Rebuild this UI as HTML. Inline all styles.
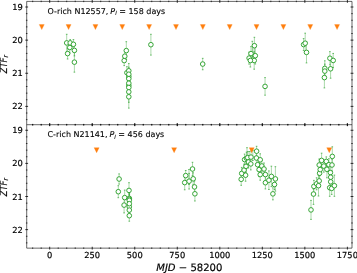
<!DOCTYPE html>
<html><head><meta charset="utf-8"><title>ZTF light curves</title>
<style>html,body{margin:0;padding:0;background:#fff}body{width:357px;height:273px;overflow:hidden}</style>
</head><body>
<svg width="357" height="273" viewBox="0 0 357 273" style="display:block">
<rect width="357" height="273" fill="#fff"/>
<g>
<path d="M66.70 34.30V51.50" stroke="#2ca02c" stroke-width="0.4" fill="none"/><path d="M65.90 34.30h1.6M65.90 51.50h1.6" stroke="#2ca02c" stroke-width="0.7" fill="none"/>
<path d="M67.60 48.20V59.00" stroke="#2ca02c" stroke-width="0.4" fill="none"/><path d="M66.80 48.20h1.6M66.80 59.00h1.6" stroke="#2ca02c" stroke-width="0.7" fill="none"/>
<path d="M69.80 42.00V53.00" stroke="#2ca02c" stroke-width="0.4" fill="none"/><path d="M69.00 42.00h1.6M69.00 53.00h1.6" stroke="#2ca02c" stroke-width="0.7" fill="none"/>
<path d="M70.20 39.60V47.90" stroke="#2ca02c" stroke-width="0.4" fill="none"/><path d="M69.40 39.60h1.6M69.40 47.90h1.6" stroke="#2ca02c" stroke-width="0.7" fill="none"/>
<path d="M73.45 39.60V49.80" stroke="#2ca02c" stroke-width="0.4" fill="none"/><path d="M72.65 39.60h1.6M72.65 49.80h1.6" stroke="#2ca02c" stroke-width="0.7" fill="none"/>
<path d="M74.40 44.90V55.90" stroke="#2ca02c" stroke-width="0.4" fill="none"/><path d="M73.60 44.90h1.6M73.60 55.90h1.6" stroke="#2ca02c" stroke-width="0.7" fill="none"/>
<path d="M74.40 52.15V72.15" stroke="#2ca02c" stroke-width="0.4" fill="none"/><path d="M73.60 52.15h1.6M73.60 72.15h1.6" stroke="#2ca02c" stroke-width="0.7" fill="none"/>
<path d="M124.20 55.60V65.60" stroke="#2ca02c" stroke-width="0.4" fill="none"/><path d="M123.40 55.60h1.6M123.40 65.60h1.6" stroke="#2ca02c" stroke-width="0.7" fill="none"/>
<path d="M124.80 50.20V62.20" stroke="#2ca02c" stroke-width="0.4" fill="none"/><path d="M124.00 50.20h1.6M124.00 62.20h1.6" stroke="#2ca02c" stroke-width="0.7" fill="none"/>
<path d="M126.30 41.70V59.50" stroke="#2ca02c" stroke-width="0.4" fill="none"/><path d="M125.50 41.70h1.6M125.50 59.50h1.6" stroke="#2ca02c" stroke-width="0.7" fill="none"/>
<path d="M126.90 66.70V78.70" stroke="#2ca02c" stroke-width="0.4" fill="none"/><path d="M126.10 66.70h1.6M126.10 78.70h1.6" stroke="#2ca02c" stroke-width="0.7" fill="none"/>
<path d="M128.80 69.50V83.50" stroke="#2ca02c" stroke-width="0.4" fill="none"/><path d="M128.00 69.50h1.6M128.00 83.50h1.6" stroke="#2ca02c" stroke-width="0.7" fill="none"/>
<path d="M128.80 78.50V92.50" stroke="#2ca02c" stroke-width="0.4" fill="none"/><path d="M128.00 78.50h1.6M128.00 92.50h1.6" stroke="#2ca02c" stroke-width="0.7" fill="none"/>
<path d="M128.80 63.60V78.00" stroke="#2ca02c" stroke-width="0.4" fill="none"/><path d="M128.00 63.60h1.6M128.00 78.00h1.6" stroke="#2ca02c" stroke-width="0.7" fill="none"/>
<path d="M128.80 67.20V81.20" stroke="#2ca02c" stroke-width="0.4" fill="none"/><path d="M128.00 67.20h1.6M128.00 81.20h1.6" stroke="#2ca02c" stroke-width="0.7" fill="none"/>
<path d="M128.80 71.70V85.70" stroke="#2ca02c" stroke-width="0.4" fill="none"/><path d="M128.00 71.70h1.6M128.00 85.70h1.6" stroke="#2ca02c" stroke-width="0.7" fill="none"/>
<path d="M128.80 76.20V90.20" stroke="#2ca02c" stroke-width="0.4" fill="none"/><path d="M128.00 76.20h1.6M128.00 90.20h1.6" stroke="#2ca02c" stroke-width="0.7" fill="none"/>
<path d="M128.80 80.50V94.50" stroke="#2ca02c" stroke-width="0.4" fill="none"/><path d="M128.00 80.50h1.6M128.00 94.50h1.6" stroke="#2ca02c" stroke-width="0.7" fill="none"/>
<path d="M128.80 81.50V102.30" stroke="#2ca02c" stroke-width="0.4" fill="none"/><path d="M128.00 81.50h1.6M128.00 102.30h1.6" stroke="#2ca02c" stroke-width="0.7" fill="none"/>
<path d="M128.80 91.30V108.10" stroke="#2ca02c" stroke-width="0.4" fill="none"/><path d="M128.00 91.30h1.6M128.00 108.10h1.6" stroke="#2ca02c" stroke-width="0.7" fill="none"/>
<path d="M150.90 34.30V55.10" stroke="#2ca02c" stroke-width="0.4" fill="none"/><path d="M150.10 34.30h1.6M150.10 55.10h1.6" stroke="#2ca02c" stroke-width="0.7" fill="none"/>
<path d="M202.70 58.35V69.75" stroke="#2ca02c" stroke-width="0.4" fill="none"/><path d="M201.90 58.35h1.6M201.90 69.75h1.6" stroke="#2ca02c" stroke-width="0.7" fill="none"/>
<path d="M249.10 52.10V64.10" stroke="#2ca02c" stroke-width="0.4" fill="none"/><path d="M248.30 52.10h1.6M248.30 64.10h1.6" stroke="#2ca02c" stroke-width="0.7" fill="none"/>
<path d="M251.00 46.60V60.60" stroke="#2ca02c" stroke-width="0.4" fill="none"/><path d="M250.20 46.60h1.6M250.20 60.60h1.6" stroke="#2ca02c" stroke-width="0.7" fill="none"/>
<path d="M252.30 41.30V57.70" stroke="#2ca02c" stroke-width="0.4" fill="none"/><path d="M251.50 41.30h1.6M251.50 57.70h1.6" stroke="#2ca02c" stroke-width="0.7" fill="none"/>
<path d="M252.90 44.50V56.50" stroke="#2ca02c" stroke-width="0.4" fill="none"/><path d="M252.10 44.50h1.6M252.10 56.50h1.6" stroke="#2ca02c" stroke-width="0.7" fill="none"/>
<path d="M254.20 51.80V69.20" stroke="#2ca02c" stroke-width="0.4" fill="none"/><path d="M253.40 51.80h1.6M253.40 69.20h1.6" stroke="#2ca02c" stroke-width="0.7" fill="none"/>
<path d="M254.40 37.30V54.10" stroke="#2ca02c" stroke-width="0.4" fill="none"/><path d="M253.60 37.30h1.6M253.60 54.10h1.6" stroke="#2ca02c" stroke-width="0.7" fill="none"/>
<path d="M255.30 47.40V64.00" stroke="#2ca02c" stroke-width="0.4" fill="none"/><path d="M254.50 47.40h1.6M254.50 64.00h1.6" stroke="#2ca02c" stroke-width="0.7" fill="none"/>
<path d="M250.40 54.00V67.00" stroke="#2ca02c" stroke-width="0.4" fill="none"/><path d="M249.60 54.00h1.6M249.60 67.00h1.6" stroke="#2ca02c" stroke-width="0.7" fill="none"/>
<path d="M265.05 77.60V95.20" stroke="#2ca02c" stroke-width="0.4" fill="none"/><path d="M264.25 77.60h1.6M264.25 95.20h1.6" stroke="#2ca02c" stroke-width="0.7" fill="none"/>
<path d="M303.60 38.60V50.60" stroke="#2ca02c" stroke-width="0.4" fill="none"/><path d="M302.80 38.60h1.6M302.80 50.60h1.6" stroke="#2ca02c" stroke-width="0.7" fill="none"/>
<path d="M305.20 33.20V53.20" stroke="#2ca02c" stroke-width="0.4" fill="none"/><path d="M304.40 33.20h1.6M304.40 53.20h1.6" stroke="#2ca02c" stroke-width="0.7" fill="none"/>
<path d="M306.50 41.90V62.90" stroke="#2ca02c" stroke-width="0.4" fill="none"/><path d="M305.70 41.90h1.6M305.70 62.90h1.6" stroke="#2ca02c" stroke-width="0.7" fill="none"/>
<path d="M324.40 67.30V87.90" stroke="#2ca02c" stroke-width="0.4" fill="none"/><path d="M323.60 67.30h1.6M323.60 87.90h1.6" stroke="#2ca02c" stroke-width="0.7" fill="none"/>
<path d="M324.80 60.80V76.00" stroke="#2ca02c" stroke-width="0.4" fill="none"/><path d="M324.00 60.80h1.6M324.00 76.00h1.6" stroke="#2ca02c" stroke-width="0.7" fill="none"/>
<path d="M324.80 64.10V78.10" stroke="#2ca02c" stroke-width="0.4" fill="none"/><path d="M324.00 64.10h1.6M324.00 78.10h1.6" stroke="#2ca02c" stroke-width="0.7" fill="none"/>
<path d="M329.90 51.65V64.85" stroke="#2ca02c" stroke-width="0.4" fill="none"/><path d="M329.10 51.65h1.6M329.10 64.85h1.6" stroke="#2ca02c" stroke-width="0.7" fill="none"/>
<path d="M330.60 59.40V78.20" stroke="#2ca02c" stroke-width="0.4" fill="none"/><path d="M329.80 59.40h1.6M329.80 78.20h1.6" stroke="#2ca02c" stroke-width="0.7" fill="none"/>
<path d="M333.20 53.45V67.45" stroke="#2ca02c" stroke-width="0.4" fill="none"/><path d="M332.40 53.45h1.6M332.40 67.45h1.6" stroke="#2ca02c" stroke-width="0.7" fill="none"/>
<circle cx="66.70" cy="42.90" r="2.3" fill="#fff" stroke="#2ca02c" stroke-width="0.95"/>
<circle cx="67.60" cy="53.60" r="2.3" fill="#fff" stroke="#2ca02c" stroke-width="0.95"/>
<circle cx="69.80" cy="47.50" r="2.3" fill="#fff" stroke="#2ca02c" stroke-width="0.95"/>
<circle cx="70.20" cy="42.90" r="2.3" fill="#fff" stroke="#2ca02c" stroke-width="0.95"/>
<circle cx="73.45" cy="44.30" r="2.3" fill="#fff" stroke="#2ca02c" stroke-width="0.95"/>
<circle cx="74.40" cy="50.40" r="2.3" fill="#fff" stroke="#2ca02c" stroke-width="0.95"/>
<circle cx="74.40" cy="62.15" r="2.3" fill="#fff" stroke="#2ca02c" stroke-width="0.95"/>
<circle cx="124.20" cy="60.60" r="2.3" fill="#fff" stroke="#2ca02c" stroke-width="0.95"/>
<circle cx="124.80" cy="56.20" r="2.3" fill="#fff" stroke="#2ca02c" stroke-width="0.95"/>
<circle cx="126.30" cy="50.60" r="2.3" fill="#fff" stroke="#2ca02c" stroke-width="0.95"/>
<circle cx="126.90" cy="72.70" r="2.3" fill="#fff" stroke="#2ca02c" stroke-width="0.95"/>
<circle cx="128.80" cy="76.50" r="2.3" fill="#fff" stroke="#2ca02c" stroke-width="0.95"/>
<circle cx="128.80" cy="85.50" r="2.3" fill="#fff" stroke="#2ca02c" stroke-width="0.95"/>
<circle cx="128.80" cy="70.80" r="2.3" fill="#fff" stroke="#2ca02c" stroke-width="0.95"/>
<circle cx="128.80" cy="74.20" r="2.3" fill="#fff" stroke="#2ca02c" stroke-width="0.95"/>
<circle cx="128.80" cy="78.70" r="2.3" fill="#fff" stroke="#2ca02c" stroke-width="0.95"/>
<circle cx="128.80" cy="83.20" r="2.3" fill="#fff" stroke="#2ca02c" stroke-width="0.95"/>
<circle cx="128.80" cy="87.50" r="2.3" fill="#fff" stroke="#2ca02c" stroke-width="0.95"/>
<circle cx="128.80" cy="91.90" r="2.3" fill="#fff" stroke="#2ca02c" stroke-width="0.95"/>
<circle cx="128.80" cy="96.80" r="2.3" fill="#fff" stroke="#2ca02c" stroke-width="0.95"/>
<circle cx="150.90" cy="44.70" r="2.3" fill="#fff" stroke="#2ca02c" stroke-width="0.95"/>
<circle cx="202.70" cy="64.05" r="2.3" fill="#fff" stroke="#2ca02c" stroke-width="0.95"/>
<circle cx="249.10" cy="58.10" r="2.3" fill="#fff" stroke="#2ca02c" stroke-width="0.95"/>
<circle cx="251.00" cy="53.60" r="2.3" fill="#fff" stroke="#2ca02c" stroke-width="0.95"/>
<circle cx="254.20" cy="60.50" r="2.3" fill="#fff" stroke="#2ca02c" stroke-width="0.95"/>
<circle cx="254.40" cy="45.70" r="2.3" fill="#fff" stroke="#2ca02c" stroke-width="0.95"/>
<circle cx="255.30" cy="55.70" r="2.3" fill="#fff" stroke="#2ca02c" stroke-width="0.95"/>
<circle cx="250.40" cy="60.50" r="2.3" fill="#fff" stroke="#2ca02c" stroke-width="0.95"/>
<circle cx="265.05" cy="86.40" r="2.3" fill="#fff" stroke="#2ca02c" stroke-width="0.95"/>
<circle cx="303.60" cy="44.60" r="2.3" fill="#fff" stroke="#2ca02c" stroke-width="0.95"/>
<circle cx="305.20" cy="43.20" r="2.3" fill="#fff" stroke="#2ca02c" stroke-width="0.95"/>
<circle cx="306.50" cy="52.40" r="2.3" fill="#fff" stroke="#2ca02c" stroke-width="0.95"/>
<circle cx="324.40" cy="77.60" r="2.3" fill="#fff" stroke="#2ca02c" stroke-width="0.95"/>
<circle cx="324.80" cy="68.40" r="2.3" fill="#fff" stroke="#2ca02c" stroke-width="0.95"/>
<circle cx="324.80" cy="71.10" r="2.3" fill="#fff" stroke="#2ca02c" stroke-width="0.95"/>
<circle cx="329.90" cy="58.25" r="2.3" fill="#fff" stroke="#2ca02c" stroke-width="0.95"/>
<circle cx="330.60" cy="68.80" r="2.3" fill="#fff" stroke="#2ca02c" stroke-width="0.95"/>
<circle cx="333.20" cy="60.45" r="2.3" fill="#fff" stroke="#2ca02c" stroke-width="0.95"/>
<path d="M118.30 185.70V197.70" stroke="#2ca02c" stroke-width="0.4" fill="none"/><path d="M117.50 185.70h1.6M117.50 197.70h1.6" stroke="#2ca02c" stroke-width="0.7" fill="none"/>
<path d="M119.10 173.90V184.10" stroke="#2ca02c" stroke-width="0.4" fill="none"/><path d="M118.30 173.90h1.6M118.30 184.10h1.6" stroke="#2ca02c" stroke-width="0.7" fill="none"/>
<path d="M124.10 197.30V212.90" stroke="#2ca02c" stroke-width="0.4" fill="none"/><path d="M123.30 197.30h1.6M123.30 212.90h1.6" stroke="#2ca02c" stroke-width="0.7" fill="none"/>
<path d="M124.70 190.10V205.10" stroke="#2ca02c" stroke-width="0.4" fill="none"/><path d="M123.90 190.10h1.6M123.90 205.10h1.6" stroke="#2ca02c" stroke-width="0.7" fill="none"/>
<path d="M129.00 182.70V198.10" stroke="#2ca02c" stroke-width="0.4" fill="none"/><path d="M128.20 182.70h1.6M128.20 198.10h1.6" stroke="#2ca02c" stroke-width="0.7" fill="none"/>
<path d="M129.30 192.30V204.30" stroke="#2ca02c" stroke-width="0.4" fill="none"/><path d="M128.50 192.30h1.6M128.50 204.30h1.6" stroke="#2ca02c" stroke-width="0.7" fill="none"/>
<path d="M129.30 193.20V205.20" stroke="#2ca02c" stroke-width="0.4" fill="none"/><path d="M128.50 193.20h1.6M128.50 205.20h1.6" stroke="#2ca02c" stroke-width="0.7" fill="none"/>
<path d="M129.30 194.30V206.30" stroke="#2ca02c" stroke-width="0.4" fill="none"/><path d="M128.50 194.30h1.6M128.50 206.30h1.6" stroke="#2ca02c" stroke-width="0.7" fill="none"/>
<path d="M129.30 200.80V212.80" stroke="#2ca02c" stroke-width="0.4" fill="none"/><path d="M128.50 200.80h1.6M128.50 212.80h1.6" stroke="#2ca02c" stroke-width="0.7" fill="none"/>
<path d="M129.30 197.70V209.70" stroke="#2ca02c" stroke-width="0.4" fill="none"/><path d="M128.50 197.70h1.6M128.50 209.70h1.6" stroke="#2ca02c" stroke-width="0.7" fill="none"/>
<path d="M129.30 204.10V216.10" stroke="#2ca02c" stroke-width="0.4" fill="none"/><path d="M128.50 204.10h1.6M128.50 216.10h1.6" stroke="#2ca02c" stroke-width="0.7" fill="none"/>
<path d="M129.30 210.20V221.20" stroke="#2ca02c" stroke-width="0.4" fill="none"/><path d="M128.50 210.20h1.6M128.50 221.20h1.6" stroke="#2ca02c" stroke-width="0.7" fill="none"/>
<path d="M184.70 175.40V189.80" stroke="#2ca02c" stroke-width="0.4" fill="none"/><path d="M183.90 175.40h1.6M183.90 189.80h1.6" stroke="#2ca02c" stroke-width="0.7" fill="none"/>
<path d="M185.70 170.50V180.70" stroke="#2ca02c" stroke-width="0.4" fill="none"/><path d="M184.90 170.50h1.6M184.90 180.70h1.6" stroke="#2ca02c" stroke-width="0.7" fill="none"/>
<path d="M189.00 169.50V184.50" stroke="#2ca02c" stroke-width="0.4" fill="none"/><path d="M188.20 169.50h1.6M188.20 184.50h1.6" stroke="#2ca02c" stroke-width="0.7" fill="none"/>
<path d="M189.10 173.40V189.00" stroke="#2ca02c" stroke-width="0.4" fill="none"/><path d="M188.30 173.40h1.6M188.30 189.00h1.6" stroke="#2ca02c" stroke-width="0.7" fill="none"/>
<path d="M192.50 162.30V175.70" stroke="#2ca02c" stroke-width="0.4" fill="none"/><path d="M191.70 162.30h1.6M191.70 175.70h1.6" stroke="#2ca02c" stroke-width="0.7" fill="none"/>
<path d="M193.20 172.80V184.80" stroke="#2ca02c" stroke-width="0.4" fill="none"/><path d="M192.40 172.80h1.6M192.40 184.80h1.6" stroke="#2ca02c" stroke-width="0.7" fill="none"/>
<path d="M194.50 180.90V192.90" stroke="#2ca02c" stroke-width="0.4" fill="none"/><path d="M193.70 180.90h1.6M193.70 192.90h1.6" stroke="#2ca02c" stroke-width="0.7" fill="none"/>
<path d="M194.90 186.60V201.00" stroke="#2ca02c" stroke-width="0.4" fill="none"/><path d="M194.10 186.60h1.6M194.10 201.00h1.6" stroke="#2ca02c" stroke-width="0.7" fill="none"/>
<path d="M241.20 173.30V185.30" stroke="#2ca02c" stroke-width="0.4" fill="none"/><path d="M240.40 173.30h1.6M240.40 185.30h1.6" stroke="#2ca02c" stroke-width="0.7" fill="none"/>
<path d="M241.70 167.40V179.40" stroke="#2ca02c" stroke-width="0.4" fill="none"/><path d="M240.90 167.40h1.6M240.90 179.40h1.6" stroke="#2ca02c" stroke-width="0.7" fill="none"/>
<path d="M244.10 164.10V176.10" stroke="#2ca02c" stroke-width="0.4" fill="none"/><path d="M243.30 164.10h1.6M243.30 176.10h1.6" stroke="#2ca02c" stroke-width="0.7" fill="none"/>
<path d="M244.60 154.10V165.10" stroke="#2ca02c" stroke-width="0.4" fill="none"/><path d="M243.80 154.10h1.6M243.80 165.10h1.6" stroke="#2ca02c" stroke-width="0.7" fill="none"/>
<path d="M245.60 169.20V181.20" stroke="#2ca02c" stroke-width="0.4" fill="none"/><path d="M244.80 169.20h1.6M244.80 181.20h1.6" stroke="#2ca02c" stroke-width="0.7" fill="none"/>
<path d="M246.00 160.30V172.30" stroke="#2ca02c" stroke-width="0.4" fill="none"/><path d="M245.20 160.30h1.6M245.20 172.30h1.6" stroke="#2ca02c" stroke-width="0.7" fill="none"/>
<path d="M246.50 152.20V164.20" stroke="#2ca02c" stroke-width="0.4" fill="none"/><path d="M245.70 152.20h1.6M245.70 164.20h1.6" stroke="#2ca02c" stroke-width="0.7" fill="none"/>
<path d="M247.00 147.70V160.30" stroke="#2ca02c" stroke-width="0.4" fill="none"/><path d="M246.20 147.70h1.6M246.20 160.30h1.6" stroke="#2ca02c" stroke-width="0.7" fill="none"/>
<path d="M247.70 151.60V163.60" stroke="#2ca02c" stroke-width="0.4" fill="none"/><path d="M246.90 151.60h1.6M246.90 163.60h1.6" stroke="#2ca02c" stroke-width="0.7" fill="none"/>
<path d="M248.40 156.00V168.00" stroke="#2ca02c" stroke-width="0.4" fill="none"/><path d="M247.60 156.00h1.6M247.60 168.00h1.6" stroke="#2ca02c" stroke-width="0.7" fill="none"/>
<path d="M249.20 151.50V158.50" stroke="#2ca02c" stroke-width="0.4" fill="none"/><path d="M248.40 151.50h1.6M248.40 158.50h1.6" stroke="#2ca02c" stroke-width="0.7" fill="none"/>
<path d="M250.80 157.90V169.90" stroke="#2ca02c" stroke-width="0.4" fill="none"/><path d="M250.00 157.90h1.6M250.00 169.90h1.6" stroke="#2ca02c" stroke-width="0.7" fill="none"/>
<path d="M251.00 151.10V163.10" stroke="#2ca02c" stroke-width="0.4" fill="none"/><path d="M250.20 151.10h1.6M250.20 163.10h1.6" stroke="#2ca02c" stroke-width="0.7" fill="none"/>
<path d="M252.80 150.50V160.50" stroke="#2ca02c" stroke-width="0.4" fill="none"/><path d="M252.00 150.50h1.6M252.00 160.50h1.6" stroke="#2ca02c" stroke-width="0.7" fill="none"/>
<path d="M256.40 152.00V164.00" stroke="#2ca02c" stroke-width="0.4" fill="none"/><path d="M255.60 152.00h1.6M255.60 164.00h1.6" stroke="#2ca02c" stroke-width="0.7" fill="none"/>
<path d="M256.60 146.30V156.10" stroke="#2ca02c" stroke-width="0.4" fill="none"/><path d="M255.80 146.30h1.6M255.80 156.10h1.6" stroke="#2ca02c" stroke-width="0.7" fill="none"/>
<path d="M257.60 158.70V170.70" stroke="#2ca02c" stroke-width="0.4" fill="none"/><path d="M256.80 158.70h1.6M256.80 170.70h1.6" stroke="#2ca02c" stroke-width="0.7" fill="none"/>
<path d="M259.10 162.60V176.60" stroke="#2ca02c" stroke-width="0.4" fill="none"/><path d="M258.30 162.60h1.6M258.30 176.60h1.6" stroke="#2ca02c" stroke-width="0.7" fill="none"/>
<path d="M260.20 153.80V165.80" stroke="#2ca02c" stroke-width="0.4" fill="none"/><path d="M259.40 153.80h1.6M259.40 165.80h1.6" stroke="#2ca02c" stroke-width="0.7" fill="none"/>
<path d="M260.20 169.00V180.20" stroke="#2ca02c" stroke-width="0.4" fill="none"/><path d="M259.40 169.00h1.6M259.40 180.20h1.6" stroke="#2ca02c" stroke-width="0.7" fill="none"/>
<path d="M261.80 160.00V172.00" stroke="#2ca02c" stroke-width="0.4" fill="none"/><path d="M261.00 160.00h1.6M261.00 172.00h1.6" stroke="#2ca02c" stroke-width="0.7" fill="none"/>
<path d="M264.00 163.00V175.00" stroke="#2ca02c" stroke-width="0.4" fill="none"/><path d="M263.20 163.00h1.6M263.20 175.00h1.6" stroke="#2ca02c" stroke-width="0.7" fill="none"/>
<path d="M265.40 168.60V180.60" stroke="#2ca02c" stroke-width="0.4" fill="none"/><path d="M264.60 168.60h1.6M264.60 180.60h1.6" stroke="#2ca02c" stroke-width="0.7" fill="none"/>
<path d="M265.40 176.50V188.90" stroke="#2ca02c" stroke-width="0.4" fill="none"/><path d="M264.60 176.50h1.6M264.60 188.90h1.6" stroke="#2ca02c" stroke-width="0.7" fill="none"/>
<path d="M268.90 170.90V189.50" stroke="#2ca02c" stroke-width="0.4" fill="none"/><path d="M268.10 170.90h1.6M268.10 189.50h1.6" stroke="#2ca02c" stroke-width="0.7" fill="none"/>
<path d="M271.40 166.20V186.60" stroke="#2ca02c" stroke-width="0.4" fill="none"/><path d="M270.60 166.20h1.6M270.60 186.60h1.6" stroke="#2ca02c" stroke-width="0.7" fill="none"/>
<path d="M272.90 187.85V199.85" stroke="#2ca02c" stroke-width="0.4" fill="none"/><path d="M272.10 187.85h1.6M272.10 199.85h1.6" stroke="#2ca02c" stroke-width="0.7" fill="none"/>
<path d="M274.50 179.50V189.50" stroke="#2ca02c" stroke-width="0.4" fill="none"/><path d="M273.70 179.50h1.6M273.70 189.50h1.6" stroke="#2ca02c" stroke-width="0.7" fill="none"/>
<path d="M275.40 166.70V191.10" stroke="#2ca02c" stroke-width="0.4" fill="none"/><path d="M274.60 166.70h1.6M274.60 191.10h1.6" stroke="#2ca02c" stroke-width="0.7" fill="none"/>
<path d="M311.00 200.40V219.40" stroke="#2ca02c" stroke-width="0.4" fill="none"/><path d="M310.20 200.40h1.6M310.20 219.40h1.6" stroke="#2ca02c" stroke-width="0.7" fill="none"/>
<path d="M313.50 189.05V204.35" stroke="#2ca02c" stroke-width="0.4" fill="none"/><path d="M312.70 189.05h1.6M312.70 204.35h1.6" stroke="#2ca02c" stroke-width="0.7" fill="none"/>
<path d="M313.90 180.40V192.40" stroke="#2ca02c" stroke-width="0.4" fill="none"/><path d="M313.10 180.40h1.6M313.10 192.40h1.6" stroke="#2ca02c" stroke-width="0.7" fill="none"/>
<path d="M316.60 177.80V189.80" stroke="#2ca02c" stroke-width="0.4" fill="none"/><path d="M315.80 177.80h1.6M315.80 189.80h1.6" stroke="#2ca02c" stroke-width="0.7" fill="none"/>
<path d="M318.50 175.40V196.00" stroke="#2ca02c" stroke-width="0.4" fill="none"/><path d="M317.70 175.40h1.6M317.70 196.00h1.6" stroke="#2ca02c" stroke-width="0.7" fill="none"/>
<path d="M319.20 159.00V171.00" stroke="#2ca02c" stroke-width="0.4" fill="none"/><path d="M318.40 159.00h1.6M318.40 171.00h1.6" stroke="#2ca02c" stroke-width="0.7" fill="none"/>
<path d="M319.20 174.90V186.90" stroke="#2ca02c" stroke-width="0.4" fill="none"/><path d="M318.40 174.90h1.6M318.40 186.90h1.6" stroke="#2ca02c" stroke-width="0.7" fill="none"/>
<path d="M319.60 167.20V179.20" stroke="#2ca02c" stroke-width="0.4" fill="none"/><path d="M318.80 167.20h1.6M318.80 179.20h1.6" stroke="#2ca02c" stroke-width="0.7" fill="none"/>
<path d="M320.20 163.60V175.60" stroke="#2ca02c" stroke-width="0.4" fill="none"/><path d="M319.40 163.60h1.6M319.40 175.60h1.6" stroke="#2ca02c" stroke-width="0.7" fill="none"/>
<path d="M321.60 153.20V167.60" stroke="#2ca02c" stroke-width="0.4" fill="none"/><path d="M320.80 153.20h1.6M320.80 167.60h1.6" stroke="#2ca02c" stroke-width="0.7" fill="none"/>
<path d="M323.80 160.10V172.10" stroke="#2ca02c" stroke-width="0.4" fill="none"/><path d="M323.00 160.10h1.6M323.00 172.10h1.6" stroke="#2ca02c" stroke-width="0.7" fill="none"/>
<path d="M326.30 156.90V165.90" stroke="#2ca02c" stroke-width="0.4" fill="none"/><path d="M325.50 156.90h1.6M325.50 165.90h1.6" stroke="#2ca02c" stroke-width="0.7" fill="none"/>
<path d="M326.90 160.80V177.80" stroke="#2ca02c" stroke-width="0.4" fill="none"/><path d="M326.10 160.80h1.6M326.10 177.80h1.6" stroke="#2ca02c" stroke-width="0.7" fill="none"/>
<path d="M328.90 158.70V170.70" stroke="#2ca02c" stroke-width="0.4" fill="none"/><path d="M328.10 158.70h1.6M328.10 170.70h1.6" stroke="#2ca02c" stroke-width="0.7" fill="none"/>
<path d="M329.70 179.10V196.30" stroke="#2ca02c" stroke-width="0.4" fill="none"/><path d="M328.90 179.10h1.6M328.90 196.30h1.6" stroke="#2ca02c" stroke-width="0.7" fill="none"/>
<path d="M330.40 166.60V178.60" stroke="#2ca02c" stroke-width="0.4" fill="none"/><path d="M329.60 166.60h1.6M329.60 178.60h1.6" stroke="#2ca02c" stroke-width="0.7" fill="none"/>
<path d="M330.70 171.20V183.20" stroke="#2ca02c" stroke-width="0.4" fill="none"/><path d="M329.90 171.20h1.6M329.90 183.20h1.6" stroke="#2ca02c" stroke-width="0.7" fill="none"/>
<path d="M330.70 175.80V187.80" stroke="#2ca02c" stroke-width="0.4" fill="none"/><path d="M329.90 175.80h1.6M329.90 187.80h1.6" stroke="#2ca02c" stroke-width="0.7" fill="none"/>
<path d="M331.70 182.40V194.40" stroke="#2ca02c" stroke-width="0.4" fill="none"/><path d="M330.90 182.40h1.6M330.90 194.40h1.6" stroke="#2ca02c" stroke-width="0.7" fill="none"/>
<path d="M332.00 159.00V171.00" stroke="#2ca02c" stroke-width="0.4" fill="none"/><path d="M331.20 159.00h1.6M331.20 171.00h1.6" stroke="#2ca02c" stroke-width="0.7" fill="none"/>
<path d="M332.30 146.80V166.00" stroke="#2ca02c" stroke-width="0.4" fill="none"/><path d="M331.50 146.80h1.6M331.50 166.00h1.6" stroke="#2ca02c" stroke-width="0.7" fill="none"/>
<path d="M334.40 175.10V196.30" stroke="#2ca02c" stroke-width="0.4" fill="none"/><path d="M333.60 175.10h1.6M333.60 196.30h1.6" stroke="#2ca02c" stroke-width="0.7" fill="none"/>
<circle cx="118.30" cy="191.70" r="2.3" fill="#fff" stroke="#2ca02c" stroke-width="0.95"/>
<circle cx="119.10" cy="179.00" r="2.3" fill="#fff" stroke="#2ca02c" stroke-width="0.95"/>
<circle cx="124.10" cy="205.10" r="2.3" fill="#fff" stroke="#2ca02c" stroke-width="0.95"/>
<circle cx="124.70" cy="197.60" r="2.3" fill="#fff" stroke="#2ca02c" stroke-width="0.95"/>
<circle cx="129.00" cy="190.40" r="2.3" fill="#fff" stroke="#2ca02c" stroke-width="0.95"/>
<circle cx="129.30" cy="198.30" r="2.3" fill="#fff" stroke="#2ca02c" stroke-width="0.95"/>
<circle cx="129.30" cy="199.20" r="2.3" fill="#fff" stroke="#2ca02c" stroke-width="0.95"/>
<circle cx="129.30" cy="200.30" r="2.3" fill="#fff" stroke="#2ca02c" stroke-width="0.95"/>
<circle cx="129.30" cy="206.80" r="2.3" fill="#fff" stroke="#2ca02c" stroke-width="0.95"/>
<circle cx="129.30" cy="203.70" r="2.3" fill="#fff" stroke="#2ca02c" stroke-width="0.95"/>
<circle cx="129.30" cy="210.10" r="2.3" fill="#fff" stroke="#2ca02c" stroke-width="0.95"/>
<circle cx="129.30" cy="215.70" r="2.3" fill="#fff" stroke="#2ca02c" stroke-width="0.95"/>
<circle cx="184.70" cy="182.60" r="2.3" fill="#fff" stroke="#2ca02c" stroke-width="0.95"/>
<circle cx="185.70" cy="175.60" r="2.3" fill="#fff" stroke="#2ca02c" stroke-width="0.95"/>
<circle cx="189.10" cy="181.20" r="2.3" fill="#fff" stroke="#2ca02c" stroke-width="0.95"/>
<circle cx="192.50" cy="169.00" r="2.3" fill="#fff" stroke="#2ca02c" stroke-width="0.95"/>
<circle cx="193.20" cy="178.80" r="2.3" fill="#fff" stroke="#2ca02c" stroke-width="0.95"/>
<circle cx="194.50" cy="186.90" r="2.3" fill="#fff" stroke="#2ca02c" stroke-width="0.95"/>
<circle cx="194.90" cy="193.80" r="2.3" fill="#fff" stroke="#2ca02c" stroke-width="0.95"/>
<circle cx="241.20" cy="179.30" r="2.3" fill="#fff" stroke="#2ca02c" stroke-width="0.95"/>
<circle cx="241.70" cy="173.40" r="2.3" fill="#fff" stroke="#2ca02c" stroke-width="0.95"/>
<circle cx="244.10" cy="170.10" r="2.3" fill="#fff" stroke="#2ca02c" stroke-width="0.95"/>
<circle cx="244.60" cy="159.60" r="2.3" fill="#fff" stroke="#2ca02c" stroke-width="0.95"/>
<circle cx="245.60" cy="175.20" r="2.3" fill="#fff" stroke="#2ca02c" stroke-width="0.95"/>
<circle cx="246.00" cy="166.30" r="2.3" fill="#fff" stroke="#2ca02c" stroke-width="0.95"/>
<circle cx="246.50" cy="158.20" r="2.3" fill="#fff" stroke="#2ca02c" stroke-width="0.95"/>
<circle cx="247.70" cy="157.60" r="2.3" fill="#fff" stroke="#2ca02c" stroke-width="0.95"/>
<circle cx="248.40" cy="162.00" r="2.3" fill="#fff" stroke="#2ca02c" stroke-width="0.95"/>
<circle cx="250.80" cy="163.90" r="2.3" fill="#fff" stroke="#2ca02c" stroke-width="0.95"/>
<circle cx="251.00" cy="157.10" r="2.3" fill="#fff" stroke="#2ca02c" stroke-width="0.95"/>
<circle cx="256.40" cy="158.00" r="2.3" fill="#fff" stroke="#2ca02c" stroke-width="0.95"/>
<circle cx="256.60" cy="151.20" r="2.3" fill="#fff" stroke="#2ca02c" stroke-width="0.95"/>
<circle cx="257.60" cy="164.70" r="2.3" fill="#fff" stroke="#2ca02c" stroke-width="0.95"/>
<circle cx="259.10" cy="169.60" r="2.3" fill="#fff" stroke="#2ca02c" stroke-width="0.95"/>
<circle cx="260.20" cy="159.80" r="2.3" fill="#fff" stroke="#2ca02c" stroke-width="0.95"/>
<circle cx="260.20" cy="174.60" r="2.3" fill="#fff" stroke="#2ca02c" stroke-width="0.95"/>
<circle cx="261.80" cy="166.00" r="2.3" fill="#fff" stroke="#2ca02c" stroke-width="0.95"/>
<circle cx="264.00" cy="169.00" r="2.3" fill="#fff" stroke="#2ca02c" stroke-width="0.95"/>
<circle cx="265.40" cy="174.60" r="2.3" fill="#fff" stroke="#2ca02c" stroke-width="0.95"/>
<circle cx="265.40" cy="182.70" r="2.3" fill="#fff" stroke="#2ca02c" stroke-width="0.95"/>
<circle cx="268.90" cy="180.20" r="2.3" fill="#fff" stroke="#2ca02c" stroke-width="0.95"/>
<circle cx="271.40" cy="176.40" r="2.3" fill="#fff" stroke="#2ca02c" stroke-width="0.95"/>
<circle cx="272.90" cy="193.85" r="2.3" fill="#fff" stroke="#2ca02c" stroke-width="0.95"/>
<circle cx="274.50" cy="184.50" r="2.3" fill="#fff" stroke="#2ca02c" stroke-width="0.95"/>
<circle cx="275.40" cy="178.90" r="2.3" fill="#fff" stroke="#2ca02c" stroke-width="0.95"/>
<circle cx="311.00" cy="209.90" r="2.3" fill="#fff" stroke="#2ca02c" stroke-width="0.95"/>
<circle cx="313.50" cy="194.05" r="2.3" fill="#fff" stroke="#2ca02c" stroke-width="0.95"/>
<circle cx="313.90" cy="186.40" r="2.3" fill="#fff" stroke="#2ca02c" stroke-width="0.95"/>
<circle cx="316.60" cy="183.80" r="2.3" fill="#fff" stroke="#2ca02c" stroke-width="0.95"/>
<circle cx="318.50" cy="185.70" r="2.3" fill="#fff" stroke="#2ca02c" stroke-width="0.95"/>
<circle cx="319.20" cy="165.00" r="2.3" fill="#fff" stroke="#2ca02c" stroke-width="0.95"/>
<circle cx="319.20" cy="180.90" r="2.3" fill="#fff" stroke="#2ca02c" stroke-width="0.95"/>
<circle cx="319.60" cy="173.20" r="2.3" fill="#fff" stroke="#2ca02c" stroke-width="0.95"/>
<circle cx="320.20" cy="169.60" r="2.3" fill="#fff" stroke="#2ca02c" stroke-width="0.95"/>
<circle cx="321.60" cy="160.40" r="2.3" fill="#fff" stroke="#2ca02c" stroke-width="0.95"/>
<circle cx="323.80" cy="166.10" r="2.3" fill="#fff" stroke="#2ca02c" stroke-width="0.95"/>
<circle cx="326.30" cy="161.40" r="2.3" fill="#fff" stroke="#2ca02c" stroke-width="0.95"/>
<circle cx="326.90" cy="169.30" r="2.3" fill="#fff" stroke="#2ca02c" stroke-width="0.95"/>
<circle cx="328.90" cy="164.70" r="2.3" fill="#fff" stroke="#2ca02c" stroke-width="0.95"/>
<circle cx="329.70" cy="187.70" r="2.3" fill="#fff" stroke="#2ca02c" stroke-width="0.95"/>
<circle cx="330.40" cy="172.60" r="2.3" fill="#fff" stroke="#2ca02c" stroke-width="0.95"/>
<circle cx="330.70" cy="177.20" r="2.3" fill="#fff" stroke="#2ca02c" stroke-width="0.95"/>
<circle cx="330.70" cy="181.80" r="2.3" fill="#fff" stroke="#2ca02c" stroke-width="0.95"/>
<circle cx="331.70" cy="188.40" r="2.3" fill="#fff" stroke="#2ca02c" stroke-width="0.95"/>
<circle cx="332.00" cy="165.00" r="2.3" fill="#fff" stroke="#2ca02c" stroke-width="0.95"/>
<circle cx="332.30" cy="156.40" r="2.3" fill="#fff" stroke="#2ca02c" stroke-width="0.95"/>
<circle cx="334.40" cy="185.70" r="2.3" fill="#fff" stroke="#2ca02c" stroke-width="0.95"/>
</g>
<g>
<path d="M39.23 24.58L44.23 24.58L41.73 29.62Z" fill="#ff7f0e" stroke="#ff7f0e" stroke-width="0.3" stroke-linejoin="miter"/>
<path d="M66.08 24.58L71.08 24.58L68.58 29.62Z" fill="#ff7f0e" stroke="#ff7f0e" stroke-width="0.3" stroke-linejoin="miter"/>
<path d="M92.93 24.58L97.93 24.58L95.43 29.62Z" fill="#ff7f0e" stroke="#ff7f0e" stroke-width="0.3" stroke-linejoin="miter"/>
<path d="M119.78 24.58L124.78 24.58L122.28 29.62Z" fill="#ff7f0e" stroke="#ff7f0e" stroke-width="0.3" stroke-linejoin="miter"/>
<path d="M146.63 24.58L151.63 24.58L149.13 29.62Z" fill="#ff7f0e" stroke="#ff7f0e" stroke-width="0.3" stroke-linejoin="miter"/>
<path d="M173.48 24.58L178.48 24.58L175.98 29.62Z" fill="#ff7f0e" stroke="#ff7f0e" stroke-width="0.3" stroke-linejoin="miter"/>
<path d="M200.33 24.58L205.33 24.58L202.83 29.62Z" fill="#ff7f0e" stroke="#ff7f0e" stroke-width="0.3" stroke-linejoin="miter"/>
<path d="M227.18 24.58L232.18 24.58L229.68 29.62Z" fill="#ff7f0e" stroke="#ff7f0e" stroke-width="0.3" stroke-linejoin="miter"/>
<path d="M254.03 24.58L259.03 24.58L256.53 29.62Z" fill="#ff7f0e" stroke="#ff7f0e" stroke-width="0.3" stroke-linejoin="miter"/>
<path d="M280.88 24.58L285.88 24.58L283.38 29.62Z" fill="#ff7f0e" stroke="#ff7f0e" stroke-width="0.3" stroke-linejoin="miter"/>
<path d="M307.73 24.58L312.73 24.58L310.23 29.62Z" fill="#ff7f0e" stroke="#ff7f0e" stroke-width="0.3" stroke-linejoin="miter"/>
<path d="M334.58 24.58L339.58 24.58L337.08 29.62Z" fill="#ff7f0e" stroke="#ff7f0e" stroke-width="0.3" stroke-linejoin="miter"/>
<path d="M94.10 147.67L99.10 147.67L96.60 152.72Z" fill="#ff7f0e" stroke="#ff7f0e" stroke-width="0.3" stroke-linejoin="miter"/>
<path d="M171.65 147.67L176.65 147.67L174.15 152.72Z" fill="#ff7f0e" stroke="#ff7f0e" stroke-width="0.3" stroke-linejoin="miter"/>
<path d="M249.20 147.67L254.20 147.67L251.70 152.72Z" fill="#ff7f0e" stroke="#ff7f0e" stroke-width="0.3" stroke-linejoin="miter"/>
<path d="M326.75 147.67L331.75 147.67L329.25 152.72Z" fill="#ff7f0e" stroke="#ff7f0e" stroke-width="0.3" stroke-linejoin="miter"/>
</g>
<path d="M49.70 0.00v2.80M49.70 126.10v-2.80M49.70 123.30v2.80M49.70 249.55v-2.80M92.22 0.00v2.80M92.22 126.10v-2.80M92.22 123.30v2.80M92.22 249.55v-2.80M134.75 0.00v2.80M134.75 126.10v-2.80M134.75 123.30v2.80M134.75 249.55v-2.80M177.28 0.00v2.80M177.28 126.10v-2.80M177.28 123.30v2.80M177.28 249.55v-2.80M219.80 0.00v2.80M219.80 126.10v-2.80M219.80 123.30v2.80M219.80 249.55v-2.80M262.32 0.00v2.80M262.32 126.10v-2.80M262.32 123.30v2.80M262.32 249.55v-2.80M304.85 0.00v2.80M304.85 126.10v-2.80M304.85 123.30v2.80M304.85 249.55v-2.80M347.38 0.00v2.80M347.38 126.10v-2.80M347.38 123.30v2.80M347.38 249.55v-2.80M25.30 7.00h2.80M353.40 7.00h-2.80M25.30 40.13h2.80M353.40 40.13h-2.80M25.30 73.26h2.80M353.40 73.26h-2.80M25.30 106.39h2.80M353.40 106.39h-2.80M25.30 130.25h2.80M353.40 130.25h-2.80M25.30 163.38h2.80M353.40 163.38h-2.80M25.30 196.51h2.80M353.40 196.51h-2.80M25.30 229.64h2.80M353.40 229.64h-2.80" stroke="#000" stroke-width="0.8" fill="none"/>
<path d="M32.69 0.65v1.50M32.69 125.45v-1.50M32.69 123.95v1.50M32.69 248.90v-1.50M41.20 0.65v1.50M41.20 125.45v-1.50M41.20 123.95v1.50M41.20 248.90v-1.50M58.21 0.65v1.50M58.21 125.45v-1.50M58.21 123.95v1.50M58.21 248.90v-1.50M66.71 0.65v1.50M66.71 125.45v-1.50M66.71 123.95v1.50M66.71 248.90v-1.50M75.22 0.65v1.50M75.22 125.45v-1.50M75.22 123.95v1.50M75.22 248.90v-1.50M83.72 0.65v1.50M83.72 125.45v-1.50M83.72 123.95v1.50M83.72 248.90v-1.50M100.73 0.65v1.50M100.73 125.45v-1.50M100.73 123.95v1.50M100.73 248.90v-1.50M109.24 0.65v1.50M109.24 125.45v-1.50M109.24 123.95v1.50M109.24 248.90v-1.50M117.74 0.65v1.50M117.74 125.45v-1.50M117.74 123.95v1.50M117.74 248.90v-1.50M126.25 0.65v1.50M126.25 125.45v-1.50M126.25 123.95v1.50M126.25 248.90v-1.50M143.25 0.65v1.50M143.25 125.45v-1.50M143.25 123.95v1.50M143.25 248.90v-1.50M151.76 0.65v1.50M151.76 125.45v-1.50M151.76 123.95v1.50M151.76 248.90v-1.50M160.26 0.65v1.50M160.26 125.45v-1.50M160.26 123.95v1.50M160.26 248.90v-1.50M168.77 0.65v1.50M168.77 125.45v-1.50M168.77 123.95v1.50M168.77 248.90v-1.50M185.78 0.65v1.50M185.78 125.45v-1.50M185.78 123.95v1.50M185.78 248.90v-1.50M194.29 0.65v1.50M194.29 125.45v-1.50M194.29 123.95v1.50M194.29 248.90v-1.50M202.79 0.65v1.50M202.79 125.45v-1.50M202.79 123.95v1.50M202.79 248.90v-1.50M211.30 0.65v1.50M211.30 125.45v-1.50M211.30 123.95v1.50M211.30 248.90v-1.50M228.31 0.65v1.50M228.31 125.45v-1.50M228.31 123.95v1.50M228.31 248.90v-1.50M236.81 0.65v1.50M236.81 125.45v-1.50M236.81 123.95v1.50M236.81 248.90v-1.50M245.31 0.65v1.50M245.31 125.45v-1.50M245.31 123.95v1.50M245.31 248.90v-1.50M253.82 0.65v1.50M253.82 125.45v-1.50M253.82 123.95v1.50M253.82 248.90v-1.50M270.83 0.65v1.50M270.83 125.45v-1.50M270.83 123.95v1.50M270.83 248.90v-1.50M279.33 0.65v1.50M279.33 125.45v-1.50M279.33 123.95v1.50M279.33 248.90v-1.50M287.84 0.65v1.50M287.84 125.45v-1.50M287.84 123.95v1.50M287.84 248.90v-1.50M296.35 0.65v1.50M296.35 125.45v-1.50M296.35 123.95v1.50M296.35 248.90v-1.50M313.36 0.65v1.50M313.36 125.45v-1.50M313.36 123.95v1.50M313.36 248.90v-1.50M321.86 0.65v1.50M321.86 125.45v-1.50M321.86 123.95v1.50M321.86 248.90v-1.50M330.37 0.65v1.50M330.37 125.45v-1.50M330.37 123.95v1.50M330.37 248.90v-1.50M338.87 0.65v1.50M338.87 125.45v-1.50M338.87 123.95v1.50M338.87 248.90v-1.50M25.95 13.63h1.50M352.75 13.63h-1.50M25.95 20.25h1.50M352.75 20.25h-1.50M25.95 26.88h1.50M352.75 26.88h-1.50M25.95 33.50h1.50M352.75 33.50h-1.50M25.95 46.76h1.50M352.75 46.76h-1.50M25.95 53.38h1.50M352.75 53.38h-1.50M25.95 60.01h1.50M352.75 60.01h-1.50M25.95 66.63h1.50M352.75 66.63h-1.50M25.95 79.89h1.50M352.75 79.89h-1.50M25.95 86.51h1.50M352.75 86.51h-1.50M25.95 93.14h1.50M352.75 93.14h-1.50M25.95 99.76h1.50M352.75 99.76h-1.50M25.95 113.02h1.50M352.75 113.02h-1.50M25.95 119.64h1.50M352.75 119.64h-1.50M25.95 136.88h1.50M352.75 136.88h-1.50M25.95 143.50h1.50M352.75 143.50h-1.50M25.95 150.13h1.50M352.75 150.13h-1.50M25.95 156.75h1.50M352.75 156.75h-1.50M25.95 170.01h1.50M352.75 170.01h-1.50M25.95 176.63h1.50M352.75 176.63h-1.50M25.95 183.26h1.50M352.75 183.26h-1.50M25.95 189.88h1.50M352.75 189.88h-1.50M25.95 203.14h1.50M352.75 203.14h-1.50M25.95 209.76h1.50M352.75 209.76h-1.50M25.95 216.39h1.50M352.75 216.39h-1.50M25.95 223.01h1.50M352.75 223.01h-1.50M25.95 236.27h1.50M352.75 236.27h-1.50M25.95 242.89h1.50M352.75 242.89h-1.50" stroke="#000" stroke-width="0.7" fill="none"/>
<path d="M26.7 1.4H352.0V248.15H26.7ZM26.7 124.7H352.0" stroke="#000" stroke-width="0.6" fill="none" stroke-linejoin="miter"/>
<g font-family="'DejaVu Sans','Liberation Sans',sans-serif" fill="#000" stroke="#000" stroke-width="0.18" text-rendering="geometricPrecision">
<text x="22.80" y="10.03" font-size="8.3" text-anchor="end">19</text>
<text x="22.80" y="133.28" font-size="8.3" text-anchor="end">19</text>
<text x="22.80" y="43.16" font-size="8.3" text-anchor="end">20</text>
<text x="22.80" y="166.41" font-size="8.3" text-anchor="end">20</text>
<text x="22.80" y="76.29" font-size="8.3" text-anchor="end">21</text>
<text x="22.80" y="199.54" font-size="8.3" text-anchor="end">21</text>
<text x="22.80" y="109.42" font-size="8.3" text-anchor="end">22</text>
<text x="22.80" y="232.67" font-size="8.3" text-anchor="end">22</text>
<text x="49.70" y="258.15" font-size="8.3" text-anchor="middle">0</text>
<text x="92.22" y="258.15" font-size="8.3" text-anchor="middle">250</text>
<text x="134.75" y="258.15" font-size="8.3" text-anchor="middle">500</text>
<text x="177.28" y="258.15" font-size="8.3" text-anchor="middle">750</text>
<text x="219.80" y="258.15" font-size="8.3" text-anchor="middle">1000</text>
<text x="262.32" y="258.15" font-size="8.3" text-anchor="middle">1250</text>
<text x="304.85" y="258.15" font-size="8.3" text-anchor="middle">1500</text>
<text x="347.38" y="258.15" font-size="8.3" text-anchor="middle">1750</text>
<text x="47.5" y="13.55" font-size="8.0" stroke-width="0.1">O-rich N12557, <tspan font-style="oblique" dx="-0.6">P</tspan><tspan font-style="oblique" font-size="5.60" dy="1.76">l</tspan><tspan dy="-1.76"> = 158 days</tspan></text>
<text x="47.5" y="137.25" font-size="8.0" stroke-width="0.1">C-rich N21141, <tspan font-style="oblique" dx="-0.6">P</tspan><tspan font-style="oblique" font-size="5.60" dy="1.76">l</tspan><tspan dy="-1.76"> = 456 days</tspan></text>
<text transform="translate(7.0 64.2) rotate(-90) scale(0.835 1)" font-size="10.05" text-anchor="middle" font-style="oblique">ZTF<tspan font-size="7.04" dy="1.31">r</tspan></text>
<text transform="translate(7.0 187.2) rotate(-90) scale(0.835 1)" font-size="10.05" text-anchor="middle" font-style="oblique">ZTF<tspan font-size="7.04" dy="1.31">r</tspan></text>
<text x="189.3" y="270.5" font-size="10.05" text-anchor="middle"><tspan font-style="oblique">MJD</tspan> − 58200</text>
</g>
</svg>
</body></html>
